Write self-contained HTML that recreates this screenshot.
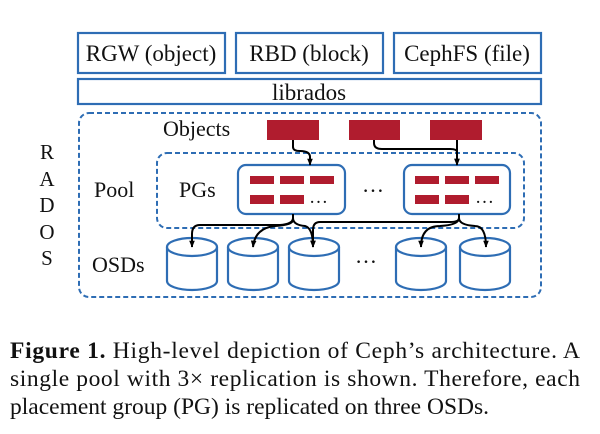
<!DOCTYPE html>
<html><head><meta charset="utf-8"><style>
html,body{margin:0;padding:0;background:#fff;width:600px;height:434px;overflow:hidden}
svg{display:block}
text{font-family:"Liberation Serif",serif;fill:#111}
</style></head><body>
<svg width="600" height="434" viewBox="0 0 600 434" xmlns="http://www.w3.org/2000/svg">
<defs>
<marker id="ar" viewBox="0 0 10 10" refX="9" refY="5" markerWidth="7" markerHeight="7" orient="auto" markerUnits="userSpaceOnUse"><path d="M0,1 L10,5 L0,9 Z" fill="#000"/></marker></defs>
<g fill="none" stroke="#2e6db4" stroke-width="2.2">
<rect x="78" y="33" width="147" height="40"/>
<rect x="236" y="33" width="147" height="40"/>
<rect x="394" y="33" width="147" height="40"/>
<rect x="78" y="79" width="463" height="25"/>
</g>
<g font-size="23" text-anchor="middle">
<text x="151" y="61">RGW (object)</text>
<text x="309" y="61">RBD (block)</text>
<text x="467" y="61">CephFS (file)</text>
<text x="309" y="100">librados</text>
</g>
<g fill="none" stroke="#2e6db4" stroke-width="2" stroke-dasharray="5,3">
<rect x="79" y="113" width="462" height="184" rx="10"/>
<rect x="157" y="153" width="367" height="75" rx="10"/>
</g>
<g font-size="21" text-anchor="middle">
<text x="47" y="159">R</text><text x="47" y="186">A</text><text x="47" y="212">D</text><text x="47" y="239">O</text><text x="47" y="265">S</text>
</g>
<g font-size="22">
<text x="163" y="136">Objects</text>
<text x="94" y="197">Pool</text>
<text x="179" y="197">PGs</text>
<text x="92" y="272">OSDs</text>
<text x="362" y="192">…</text>
<text x="355" y="263">…</text>
</g>
<g fill="#b01c2e">
<rect x="267" y="120" width="52" height="20"/>
<rect x="349" y="120" width="51" height="20"/>
<rect x="430" y="120" width="52" height="20"/>
</g>
<g fill="none" stroke="#2e6db4" stroke-width="2.2">
<rect x="238" y="165" width="107" height="49" rx="8"/>
<rect x="404" y="165" width="106" height="49" rx="8"/>
</g>
<g fill="#b01c2e">
<rect x="250" y="176" width="24" height="8"/><rect x="280" y="176" width="24" height="8"/><rect x="310" y="176" width="24" height="8"/>
<rect x="250" y="195" width="24" height="9"/><rect x="280" y="195" width="24" height="9"/>
<rect x="415" y="176" width="24" height="8"/><rect x="445" y="176" width="24" height="8"/><rect x="475" y="176" width="24" height="8"/>
<rect x="415" y="195" width="24" height="9"/><rect x="445" y="195" width="24" height="9"/>
</g>
<g font-size="19"><text x="309" y="203">…</text><text x="475" y="203">…</text></g>
<g fill="#fff" stroke="#2e6db4" stroke-width="2.2">
<g id="c"><path d="M167,247 V281 A25,9 0 0 0 217,281 V247"/><ellipse cx="192" cy="247" rx="25" ry="9"/></g>
<use href="#c" x="61"/><use href="#c" x="122"/><use href="#c" x="229"/><use href="#c" x="293"/>
</g>
<g fill="none" stroke="#000" stroke-width="2" marker-end="url(#ar)">
<path d="M293,140 V147 Q293,151 300,151 Q310,151 310,157 V165"/>
<path d="M374,140 V143 Q374,149 382,149 H450 Q457,149 457,152 V165"/>
<path d="M457,140 V165"/>
<path d="M293,214 V218 Q293,224 280,225 H200 Q192,225 192,234 V247"/>
<path d="M293,214 V220 Q293,225 275,226 Q255,228 253,247"/>
<path d="M293,214 V218 Q293,225 305,226 Q313,228 313,247"/>
<path d="M459,214 V218 Q459,222 450,222 H320 Q313,222 313,230 V247"/>
<path d="M459,214 V218 Q459,225 440,226 Q421,226 421,247"/>
<path d="M459,214 V218 Q459,225 475,226 Q486,226 486,247"/>
</g>
<g font-size="23.5">
<text x="10" y="358" textLength="570" lengthAdjust="spacing"><tspan font-weight="bold">Figure 1.</tspan> High-level depiction of Ceph’s architecture. A</text>
<text x="10" y="386" textLength="570" lengthAdjust="spacing">single pool with 3× replication is shown. Therefore, each</text>
<text x="10" y="414">placement group (PG) is replicated on three OSDs.</text>
</g>
</svg>
</body></html>
